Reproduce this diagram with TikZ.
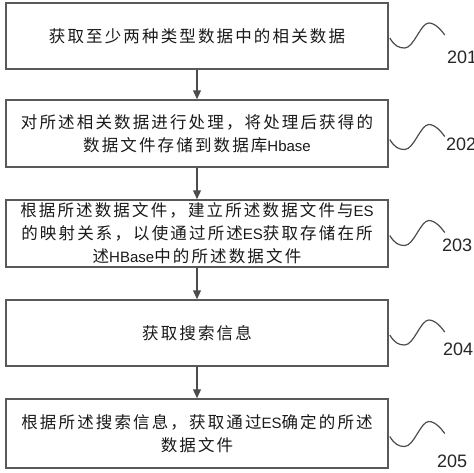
\documentclass[tikz,border=0pt]{standalone}
\usepackage{fontspec}
\usetikzlibrary{arrows.meta,calc}
\newfontfamily\cjk[LetterSpace=13]{Noto Sans CJK SC}
\newfontfamily\latf{Liberation Sans}
\newfontfamily\labfont{Liberation Sans}
\newcommand{\lw}[1]{{\latf\fontsize{15}{23}\selectfont #1}}
\begin{document}
\begin{tikzpicture}[x=1pt,y=-1pt,
  box/.style={draw=black!65, line width=1.5pt, minimum width=382pt, inner sep=0pt,
    align=center, font=\cjk\fontsize{16.5}{23}\selectfont, text=black!90},
  flow/.style={draw=black!70, line width=1.2pt, -{Triangle[width=8pt,length=9pt]}},
  squig/.style={draw=black!70, line width=1.2pt},
  lab/.style={font=\labfont\fontsize{18}{20}\selectfont, text=black!85, anchor=west, inner sep=0pt},
  wave/.pic={\draw[squig] (0,0) .. controls (5,8) and (9,10) .. (15,10)
      .. controls (24,10) and (31,-15) .. (39,-15)
      .. controls (46,-15) and (52,-7) .. (55,-3);}]
\useasboundingbox (0,0) rectangle (474,472);
\node[box, minimum height=66pt] (b1) at (197,36) {获取至少两种类型数据中的相关数据};
\node[box, minimum height=67pt] (b2) at (197,133.5) {对所述相关数据进行处理，将处理后获得的\\数据文件存储到数据库\lw{Hbase}};
\node[box, minimum height=67pt] (b3) at (197,233.5) {根据所述数据文件，建立所述数据文件与\lw{ES}\\的映射关系，以使通过所述\lw{ES}获取存储在所\\述\lw{HBase}中的所述数据文件};
\node[box, minimum height=66pt] (b4) at (197,333) {获取搜索信息};
\node[box, minimum height=69pt] (b5) at (197,433.5) {根据所述搜索信息，获取通过\lw{ES}确定的所述\\数据文件};
\draw[flow] (b1.south) -- (b2.north);
\draw[flow] (b2.south) -- (b3.north);
\draw[flow] (b3.south) -- (b4.north);
\draw[flow] (b4.south) -- (b5.north);
\pic at ($(b1.east)+(1,2)$) {wave};
\pic at ($(b2.east)+(1,6)$) {wave};
\pic at ($(b3.east)+(1,2)$) {wave};
\pic at ($(b4.east)+(1,2)$) {wave};
\pic at ($(b5.east)+(1,3)$) {wave};
\node[lab] (l1) at (447,57) {201};
\node[lab] (l2) at (446,144) {202};
\node[lab] (l3) at (442,245) {203};
\node[lab] (l4) at (443,349) {204};
\node[lab] (l5) at (437,461) {205};
\end{tikzpicture}
\end{document}
